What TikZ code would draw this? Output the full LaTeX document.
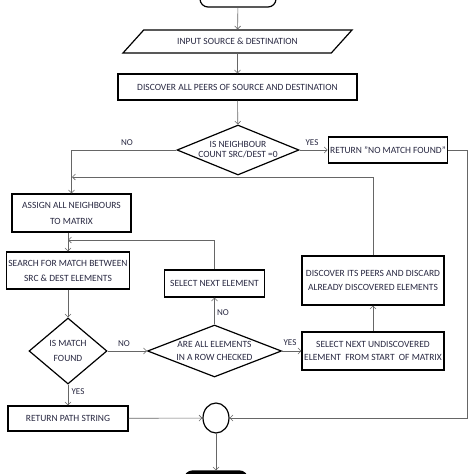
\documentclass[tikz,border=0pt]{standalone}
\usepackage{fontspec}
\setmainfont{Carlito}
\usetikzlibrary{shapes.geometric,arrows.meta}
\definecolor{ink}{RGB}{40,40,65}
\begin{document}
\begin{tikzpicture}[x=1pt,y=-1pt,
    box/.style={draw=black,line width=1.2pt,text=ink,align=center,
      font=\fontsize{9.5}{14}\selectfont,inner sep=2pt},
    dec/.style={box,diamond,inner sep=0pt},
    term/.style={draw=black,line width=1.2pt,rounded corners=8pt,
      minimum height=24pt},
    lab/.style={text=ink,font=\fontsize{9}{10}\selectfont},
    flow/.style={draw=black!60,line width=0.6pt,
      -{Straight Barb[length=3pt,width=6pt]}}]
      \useasboundingbox (0,0) rectangle (474,474);
      \draw
        (238,-5) node[term,minimum width=76pt] (start){}
        (237.5,41.5) node[box,trapezium,trapezium left angle=27,
          trapezium right angle=153,trapezium stretches body,
          minimum width=229pt,minimum height=23pt] (input){INPUT SOURCE \& DESTINATION}
        (237.5,87) node[box,minimum width=239pt,minimum height=26pt] (discover){DISCOVER ALL PEERS OF SOURCE AND DESTINATION}
        (238,150) node[dec,aspect=2.44,minimum width=122pt,minimum height=50pt,
          font=\fontsize{9.5}{10}\selectfont] (nbr){IS NEIGHBOUR\\COUNT SRC/DEST =0}
        (388,150) node[box,minimum width=114pt,minimum height=26pt] (nomatch){RETURN "NO MATCH FOUND"}
        (71.5,213) node[box,minimum width=119pt,minimum height=38pt,
          font=\fontsize{9.5}{16}\selectfont] (assign){ASSIGN ALL NEIGHBOURS\\TO MATRIX}
        (68,270.5) node[box,minimum width=120pt,minimum height=37pt,
          font=\fontsize{9.5}{15}\selectfont] (search){SEARCH FOR MATCH BETWEEN\\SRC \& DEST ELEMENTS}
        (214.5,283.5) node[box,minimum width=100pt,minimum height=27pt] (selnext){SELECT NEXT ELEMENT}
        (373,280.5) node[box,minimum width=142pt,minimum height=49pt] (peers){DISCOVER ITS PEERS AND DISCARD\\ALREADY DISCOVERED ELEMENTS}
        (68,351) node[dec,aspect=1.18,minimum width=78pt,minimum height=66pt,
          font=\fontsize{9.5}{15}\selectfont] (match){IS MATCH\\FOUND}
        (214.5,351) node[dec,aspect=2.58,minimum width=134pt,minimum height=52pt,
          font=\fontsize{9.5}{13}\selectfont] (row){ARE ALL ELEMENTS\\IN A ROW CHECKED}
        (373,351) node[box,minimum width=142pt,minimum height=38pt,
          font=\fontsize{9.5}{13}\selectfont] (undisc){SELECT NEXT UNDISCOVERED\\ELEMENT\ \ FROM START\ \ OF MATRIX}
        (68,418.5) node[box,minimum width=120pt,minimum height=25pt] (path){RETURN PATH STRING}
        (216,418) node[draw=black,line width=1.2pt,ellipse,minimum width=26pt,minimum height=30pt] (join){}
        (216,483) node[term,fill=black,minimum width=63pt] (stop){};
      \coordinate (loopa) at (72,177);
      \coordinate (loopb) at (68,240);
      \begin{scope}[flow]
        \draw (start) to (input);
        \draw (input) to (discover);
        \draw (discover) to (nbr);
        \draw (nbr.west) -| (assign.north);
        \draw (nbr) to (nomatch);
        \draw (nomatch.east) -- ++(19,0) |- (join.east);
        \draw (peers.north) |- (loopa);
        \draw (assign.south -| search.north) -- (search.north);
        \draw (selnext.north) |- (loopb);
        \draw (search) to (match);
        \draw (match) to (row);
        \draw (row) to (selnext);
        \draw (row) to (undisc);
        \draw (undisc) to (peers);
        \draw (match) to (path);
        \draw (path) to (join);
        \draw (join) to (stop);
      \end{scope}
      \node[lab] (no1) at (127,143) {NO};
      \node[lab] (yes1) at (312,143) {YES};
      \node[lab] (no2) at (124,344) {NO};
      \node[lab] (no3) at (223,313) {NO};
      \node[lab] (yes2) at (290,343) {YES};
      \node[lab] (yes3) at (78,392) {YES};
    \end{tikzpicture}
\end{document}
